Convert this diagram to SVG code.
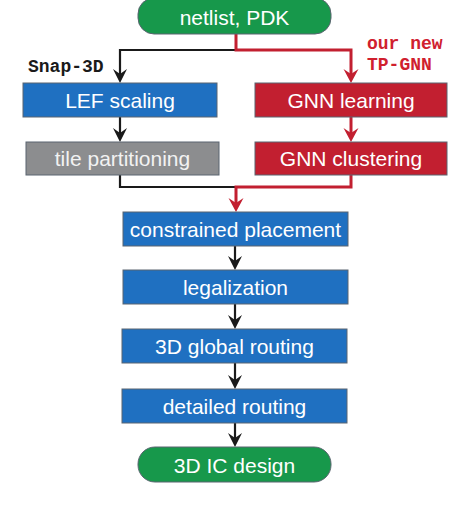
<svg xmlns="http://www.w3.org/2000/svg" width="474" height="510" viewBox="0 0 474 510">
<style>
.box{stroke:#5a6470;stroke-width:1}
.blue{fill:#1f70c1}
.red{fill:#c21f30}
.green{fill:#17984b}
.gray{fill:#8c8d8f}
.t{font-family:"Liberation Sans",Arial,sans-serif;font-size:21px;fill:#ffffff;text-anchor:middle}
.mono{font-family:"Liberation Mono","Courier New",monospace;font-size:18px;font-weight:bold}
.kline{fill:none;stroke:#1a1a1a;stroke-width:2.2}
.rline{fill:none;stroke:#c21f30;stroke-width:3}
</style>
<defs>
<marker id="ak" viewBox="-7 -8 16 16" markerWidth="16" markerHeight="16" refX="0" refY="0" orient="auto" markerUnits="userSpaceOnUse">
<path d="M8,0 L-6,-7 L-1,0 L-6,7 Z" fill="#1a1a1a"/>
</marker>
<marker id="ar" viewBox="-7 -8 16 16" markerWidth="16" markerHeight="16" refX="0" refY="0" orient="auto" markerUnits="userSpaceOnUse">
<path d="M8,0 L-6,-7.5 L-1,0 L-6,7.5 Z" fill="#c21f30"/>
</marker>
</defs>
<g id="connectors">
<path class="kline" d="M236,50 H120 V75" marker-end="url(#ak)"/>
<path class="rline" d="M236,34 V50 H351 V75" marker-end="url(#ar)"/>
<path class="kline" d="M120,117 V134" marker-end="url(#ak)"/>
<path class="rline" d="M351,117 V134" marker-end="url(#ar)"/>
<path class="kline" d="M120,175 V187 H236"/>
<path class="rline" d="M351,175 V187 H236 V204" marker-end="url(#ar)"/>
<path class="kline" d="M235,246 V262" marker-end="url(#ak)"/>
<path class="kline" d="M235,304 V321" marker-end="url(#ak)"/>
<path class="kline" d="M235,363 V381" marker-end="url(#ak)"/>
<path class="kline" d="M235,423 V439" marker-end="url(#ak)"/>
</g>
<g id="netlist">
<rect class="box green" x="138" y="-2" width="193" height="36" rx="16"/>
<text class="t" x="234.5" y="25">netlist, PDK</text>
</g>
<g id="lef">
<rect class="box blue" x="23" y="83" width="194" height="34"/>
<text class="t" x="120" y="107.5">LEF scaling</text>
</g>
<g id="tile">
<rect class="box gray" x="26" y="142" width="193" height="33"/>
<text class="t" x="122.5" y="166" style="fill:#f2f2f2">tile partitioning</text>
</g>
<g id="gnnlearn">
<rect class="box red" x="255" y="83" width="192" height="34"/>
<text class="t" x="351" y="107.5">GNN learning</text>
</g>
<g id="gnnclust">
<rect class="box red" x="255" y="142" width="192" height="33"/>
<text class="t" x="351" y="166">GNN clustering</text>
</g>
<g id="labels">
<text class="mono" x="28" y="72" fill="#1a1a1a">Snap-3D</text>
<text class="mono" x="367" y="49" fill="#d0202e">our new</text>
<text class="mono" x="367" y="70" fill="#d0202e">TP-GNN</text>
</g>
<g id="placement">
<rect class="box blue" x="123" y="212" width="225" height="34"/>
<text class="t" x="235.5" y="236.5">constrained placement</text>
</g>
<g id="legal">
<rect class="box blue" x="123" y="270" width="225" height="34"/>
<text class="t" x="235.5" y="294.5">legalization</text>
</g>
<g id="groute">
<rect class="box blue" x="122" y="329" width="225" height="34"/>
<text class="t" x="234.5" y="353.5">3D global routing</text>
</g>
<g id="droute">
<rect class="box blue" x="122" y="389" width="225" height="34"/>
<text class="t" x="234.5" y="413.5">detailed routing</text>
</g>
<g id="ic">
<rect class="box green" x="138" y="447" width="193" height="35" rx="17"/>
<text class="t" x="234.5" y="472.5">3D IC design</text>
</g>
</svg>
